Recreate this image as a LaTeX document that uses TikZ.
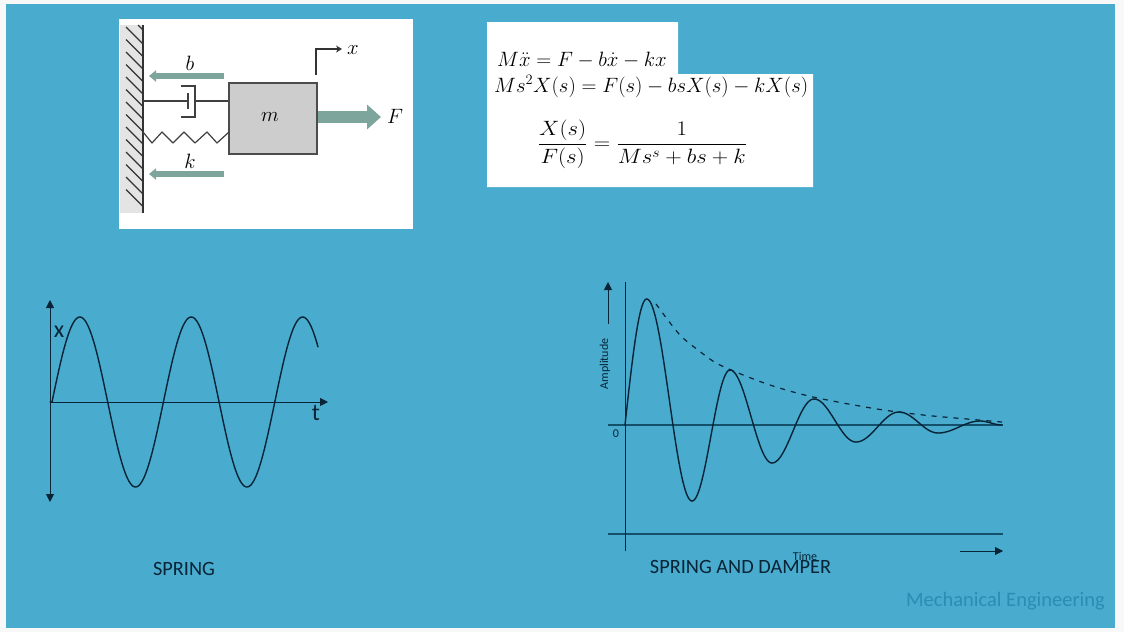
\documentclass[tikz,border=0pt]{standalone}
\usepackage{amsmath}
\usepackage{graphicx}
\usepackage{fontspec}
\setmainfont{Carlito}
\usetikzlibrary{arrows.meta}
\definecolor{bgblue}{RGB}{73,171,205}
\definecolor{ink}{RGB}{8,36,54}
\definecolor{axisdark}{RGB}{20,80,105}
\definecolor{arrowgreen}{RGB}{125,165,155}
\definecolor{massgray}{RGB}{205,205,205}
\definecolor{wallgray}{RGB}{228,228,228}
\definecolor{wmark}{RGB}{45,140,178}
\definecolor{outer}{RGB}{248,248,248}
\tikzset{
  x=1pt,y=-1pt,
  panel/.style={fill=white,draw=none},
  mech/.style={draw=black!75,line width=1.2pt},
  greenarrow/.style={draw=arrowgreen,line width=5.5pt,-{Triangle[length=7pt,width=11pt]}},
  curve/.style={draw=ink,line width=1.4pt,line join=round,line cap=round},
  axisline/.style={draw=axisdark,line width=1.4pt},
  blackarrow/.style={draw=ink,line width=0.95pt,-{Triangle[length=8pt,width=8pt]}},
  lab/.style={inner sep=0pt,text=black},
  caption/.style={inner sep=0pt,text=ink,font=\fontsize{20.3}{22}\selectfont},
  mechlab/.style={inner sep=0pt,text=black,font=\fontsize{21}{21}\selectfont},
}
\begin{document}
\begin{tikzpicture}
\useasboundingbox (0,0) rectangle (1124,632);
\fill[outer] (0,0) rectangle (1124,632);
\fill[bgblue] (6,4) rectangle (1115,628);
% mechanical panel
\fill[panel] (119,19) rectangle (413,229);
\fill[wallgray] (120,25) rectangle (143,213);
\draw[black!80,line width=1.2pt] (138,25) -- (143,30);
\foreach \yy in {27,39.5,...,197}
  \draw[black!80,line width=1.2pt] (126,\yy) -- (143,\yy+17);
\draw[black!80,line width=1.6pt] (143,25) -- (143,213);
\node[mechlab] (blabel) at (190,63) {$b$};
\coordinate (bs) at (224,76); \coordinate (be) at (149,76);
\draw[greenarrow] (bs) -- (be);
\coordinate (ws) at (143,101); \coordinate (pl) at (188,101);
\draw[mech] (ws) -- (pl);
\draw[mech,line width=1.6pt] (188,93) -- (188,109);
\draw[mech,line width=1.6pt] (181,86) -- (195,86) -- (195,117) -- (181,117);
\node[draw=black!70,fill=massgray,line width=1.3pt,minimum width=88pt,minimum height=71pt,inner sep=0pt] (mass) at (273,118.5) {};
\node[mechlab] (mlabel) at (270,117) {$m$};
\draw[mech] (195,101) -- (mass.west |- 195,101);
\draw[mech,line join=round] (143,132) -- (152,143) -- (162,132) -- (173,143) -- (184,132) -- (195,143) -- (207,132) -- (217,143) -- (229,132);
\node[mechlab] (klabel) at (190,161) {$k$};
\coordinate (ks) at (224,174); \coordinate (ke) at (149,174);
\draw[greenarrow] (ks) -- (ke);
\coordinate (fe) at (381,117);
\draw[draw=arrowgreen,line width=12pt,-{Triangle[length=14pt,width=24pt]}] (mass.east |- fe) -- (fe);
\node[mechlab] (flabel) at (395,116) {$F$};
\coordinate (xs) at (316,75); \coordinate (xe) at (342,49);
\draw[draw=black!80,line width=1.3pt,-{Stealth[length=6pt,width=7pt]}] (xs) |- (xe);
\node[mechlab] (xlabel) at (353,50) {$x$};
% equation panel
\fill[panel] (487,22) -- (678,22) -- (678,74) -- (813,74) -- (813,187) -- (487,187) -- cycle;
\node[lab,anchor=base west,font=\fontsize{19.6}{24}\selectfont] (eq1) at (497,66) {$M\ddot{x}=F-b\dot{x}-kx$};
\node[lab,anchor=base west,font=\fontsize{20}{24}\selectfont] (eq2) at (494,92) {$Ms^{2}X(s)=F(s)-bsX(s)-kX(s)$};
\node[lab,anchor=base,font=\fontsize{22.2}{26}\selectfont] (eq3) at (642.5,149.5) {\scalebox{1.1}[1]{$\displaystyle\frac{X(s)}{F(s)}=\frac{1}{Ms^{s}+bs+k}$}};
% spring plot
\coordinate (so) at (50,402); \coordinate (st) at (328,402);
\coordinate (su) at (50,300); \coordinate (sd) at (50,502);
\draw[blackarrow] (so) -- (st);
\draw[blackarrow] (so) -- (su);
\draw[blackarrow] (so) -- (sd);
\draw[curve] (so) -- plot[domain=52:318,samples=220] (\x,{402-85*sin((\x-52)/111.4*360)});
\node[lab,text=ink,font=\fontsize{24}{24}\selectfont] (xaxis) at (59,332) {x};
\node[lab,text=ink,font=\fontsize{24}{24}\selectfont] (taxis) at (316,413) {t};
\node[caption] (spring) at (184,569) {SPRING};
% damped plot
\coordinate (dl) at (608,425); \coordinate (dr) at (1003,425);
\coordinate (bl) at (608,534); \coordinate (br) at (1003,534);
\coordinate (vt) at (625,282); \coordinate (vb) at (625,551);
\draw[axisline] (dl) -- (dr);
\draw[axisline] (bl) -- (br);
\draw[draw=ink,line width=1pt] (vt) -- (vb);
\coordinate (as) at (608,324); \coordinate (ae) at (608,282);
\draw[blackarrow] (as) -- (ae);
\coordinate (ts) at (960,551); \coordinate (te) at (1003,551);
\draw[blackarrow] (ts) -- (te);
\draw[curve] plot[domain=625:646.7,samples=40] (\x,{425-126*sin((\x-625)/21.7*90)});
\foreach \xa/\ya/\xb/\yb in {646.7/299/692/501,692/501/730/370,730/370/772/463,772/463/814/399,814/399/856/442,856/442/899/412,899/412/938/433,938/433/980/421,980/421/1002/425}
  \draw[curve] plot[domain=\xa:\xb,samples=40] (\x,{\ya+(\yb-\ya)*(1-cos((\x-\xa)/(\xb-\xa)*180))/2});
\draw[draw=ink,line width=1.2pt,dash pattern=on 5pt off 6pt] plot[smooth] coordinates {(656,304) (679,334) (698,350) (720,365) (767,384) (813,397) (877,409) (923,415) (967,419) (1002,422)};
\node[lab,text=ink,rotate=90,font=\fontsize{12}{12}\selectfont] (amp) at (605,364) {Amplitude};
\node[lab,text=ink,font=\fontsize{12}{12}\selectfont] (zero) at (616,434) {0};
\node[lab,text=ink,font=\fontsize{12}{12}\selectfont] (time) at (805,556) {Time};
\node[caption] (sd2) at (740.5,566.5) {SPRING AND DAMPER};
\node[lab,text=wmark,font=\fontsize{20.5}{22}\selectfont] (mech) at (1005.5,601.5) {Mechanical Engineering};
\end{tikzpicture}
\end{document}
